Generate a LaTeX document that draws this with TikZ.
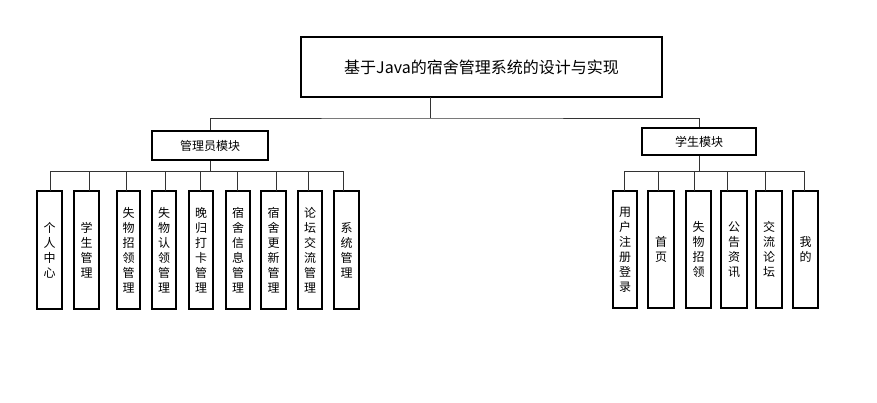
\documentclass[tikz,border=0pt]{standalone}
\usepackage{fontspec}
\newfontfamily\cjk{Noto Sans CJK SC}
\begin{document}
\begin{tikzpicture}[x=1pt,y=-1pt,
  box/.style={draw=black,line width=1.5pt,inner sep=0pt},
  ln/.style={draw=black!80,line width=0.8pt},
  vt/.style={font=\cjk\fontsize{12}{15}\selectfont,align=center,inner sep=0pt}]
\useasboundingbox (0,0) rectangle (877,402);
\node[box,minimum width=361pt,minimum height=60pt,font=\cjk\fontsize{16}{18}\selectfont] (root) at (481.5,67) {基于Java的宿舍管理系统的设计与实现};
\node[box,minimum width=116pt,minimum height=29pt,font=\cjk\fontsize{12}{14}\selectfont] (adm) at (210,145.5) {管理员模块};
\node[box,minimum width=114pt,minimum height=27pt,font=\cjk\fontsize{12}{14}\selectfont] (stu) at (699,141.5) {学生模块};
\coordinate (j) at (430,118);
\draw[ln] (430,97) -- (j);
\draw[ln] (adm.north) |- (j) -| (stu.north);
% admin children
\foreach \n/\l/\r/\d/\t in {a1/37/62/50/个\\人\\中\\心, a2/74/99/89/学\\生\\管\\理, a3/117/140/126/失\\物\\招\\领\\管\\理, a4/152/176/165/失\\物\\认\\领\\管\\理, a5/189/213/200/晚\\归\\打\\卡\\管\\理, a6/226/250/237/宿\\舍\\信\\息\\管\\理, a7/261/286/276/宿\\舍\\更\\新\\管\\理, a8/298/322/308/论\\坛\\交\\流\\管\\理, a9/334/359/343/系\\统\\管\\理}{
  \node[box,minimum width={\r-\l},minimum height=118pt] (\n) at ({(\l+\r)/2},250) {};
  \node[vt] at (\n.center) {\t};
  \draw[ln] (\d,171) -- (\d,191);
}
\draw[ln] (50,171) -- (343,171);
\draw[ln] (adm.south) -- (210,171);
% student children
\foreach \n/\l/\r/\d/\t in {s1/613/637/624/用\\户\\注\\册\\登\\录, s2/648/674/658/首\\页, s3/686/711/694/失\\物\\招\\领, s4/721/747/727/公\\告\\资\\讯, s5/756/782/765/交\\流\\论\\坛, s6/793/818/804/我\\的}{
  \node[box,minimum width={\r-\l},minimum height=117pt] (\n) at ({(\l+\r)/2},249.5) {};
  \node[vt] at (\n.center) {\t};
  \draw[ln] (\d,171) -- (\d,191);
}
\draw[ln] (624,171) -- (804,171);
\draw[ln] (stu.south) -- (699,171);
\end{tikzpicture}
\end{document}
